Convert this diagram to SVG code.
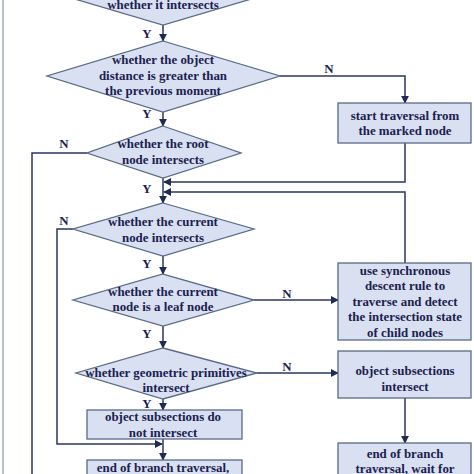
<svg xmlns="http://www.w3.org/2000/svg" width="474" height="474" viewBox="0 0 474 474">
<defs>
<marker id="ah" viewBox="0 0 10 10" refX="9" refY="5" markerWidth="8" markerHeight="8" markerUnits="userSpaceOnUse" orient="auto">
<path d="M0,0 L10,5 L0,10 z" fill="#1f2a55"/>
</marker>
</defs>
<style>
.shape{fill:#d9e0f1;stroke:#5a6a88;stroke-width:1.3}
.t{font-family:"Liberation Serif","Times New Roman",serif;font-weight:bold;font-size:12.9px;fill:#1c2150;text-anchor:middle}
.lbl{font-family:"Liberation Serif","Times New Roman",serif;font-weight:bold;font-size:12.9px;fill:#1c2150;text-anchor:middle}
.c{fill:none;stroke:#2a3660;stroke-width:1.5}
.ca{fill:none;stroke:#2a3660;stroke-width:1.5;marker-end:url(#ah)}
</style>
<rect width="474" height="474" fill="#ffffff"/>
<g id="connectors">
<line x1="3" y1="0" x2="3" y2="474" stroke="#8a94a8" stroke-width="1.2"/>
<line class="ca" x1="163" y1="25" x2="163" y2="41"/>
<polyline class="ca" points="280,76 405,76 405,103"/>
<line class="ca" x1="163" y1="112" x2="163" y2="126"/>
<polyline class="c" points="87,153 32,153 32,474"/>
<line class="ca" x1="163" y1="178" x2="163" y2="203"/>
<polyline class="ca" points="405,143 405,182 164,182"/>
<polyline class="ca" points="405,263 405,192 164,192"/>
<polyline class="ca" points="73,229 57,229 57,444 162,444"/>
<line class="ca" x1="163" y1="256" x2="163" y2="274"/>
<line class="ca" x1="254" y1="300" x2="338" y2="300"/>
<line class="ca" x1="163" y1="326" x2="163" y2="348"/>
<line class="ca" x1="257" y1="373" x2="338" y2="373"/>
<line class="ca" x1="163" y1="399" x2="163" y2="410"/>
<line class="ca" x1="405" y1="398" x2="405" y2="443"/>
<line class="ca" x1="163" y1="439" x2="163" y2="460"/>
<text class="lbl" x="147" y="38">Y</text>
<text class="lbl" x="329" y="73">N</text>
<text class="lbl" x="147" y="118">Y</text>
<text class="lbl" x="64" y="148">N</text>
<text class="lbl" x="147" y="193">Y</text>
<text class="lbl" x="64" y="225">N</text>
<text class="lbl" x="147" y="268">Y</text>
<text class="lbl" x="287" y="298">N</text>
<text class="lbl" x="147" y="338">Y</text>
<text class="lbl" x="287" y="371">N</text>
<text class="lbl" x="147" y="408">Y</text>
</g>
<g id="d1">
<polygon class="shape" points="163,-30 248,0 163,25 78,0"/>
<text class="t" x="163" y="9">whether it intersects</text>
</g>
<g id="d2">
<polygon class="shape" points="163,41 280,76 163,112 47,76"/>
<text class="t" x="163" y="64">whether the object</text>
<text class="t" x="163" y="80">distance is greater than</text>
<text class="t" x="163" y="95">the previous moment</text>
</g>
<g id="b1">
<rect class="shape" x="338" y="103" width="133" height="40"/>
<text class="t" x="405" y="120">start traversal from</text>
<text class="t" x="405" y="135">the marked node</text>
</g>
<g id="d3">
<polygon class="shape" points="163,126 241,153 163,178 87,153"/>
<text class="t" x="163" y="148">whether the root</text>
<text class="t" x="163" y="164">node intersects</text>
</g>
<g id="d4">
<polygon class="shape" points="163,203 254,229 163,256 73,229"/>
<text class="t" x="163" y="226">whether the current</text>
<text class="t" x="163" y="242">node intersects</text>
</g>
<g id="d5">
<polygon class="shape" points="163,274 254,300 163,326 73,300"/>
<text class="t" x="163" y="296">whether the current</text>
<text class="t" x="163" y="311">node is a leaf node</text>
</g>
<g id="b2">
<rect class="shape" x="338" y="263" width="133" height="77"/>
<text class="t" x="405" y="275">use synchronous</text>
<text class="t" x="405" y="290">descent rule to</text>
<text class="t" x="405" y="306">traverse and detect</text>
<text class="t" x="405" y="321">the intersection state</text>
<text class="t" x="405" y="337">of child nodes</text>
</g>
<g id="d6">
<polygon class="shape" points="163,348 257,373 163,399 76,373"/>
<text class="t" x="166" y="377">whether geometric primitives</text>
<text class="t" x="166" y="392">intersect</text>
</g>
<g id="b3">
<rect class="shape" x="338" y="351" width="133" height="47"/>
<text class="t" x="405" y="375">object subsections</text>
<text class="t" x="405" y="391">intersect</text>
</g>
<g id="b4">
<rect class="shape" x="87" y="410" width="155" height="29"/>
<text class="t" x="163" y="421">object subsections do</text>
<text class="t" x="163" y="437">not intersect</text>
</g>
<g id="b5">
<rect class="shape" x="338" y="443" width="133" height="45"/>
<text class="t" x="405" y="458">end of branch</text>
<text class="t" x="405" y="473">traversal, wait for</text>
</g>
<g id="b6">
<rect class="shape" x="87" y="460" width="155" height="30"/>
<text class="t" x="163" y="472">end of branch traversal,</text>
</g>
</svg>
